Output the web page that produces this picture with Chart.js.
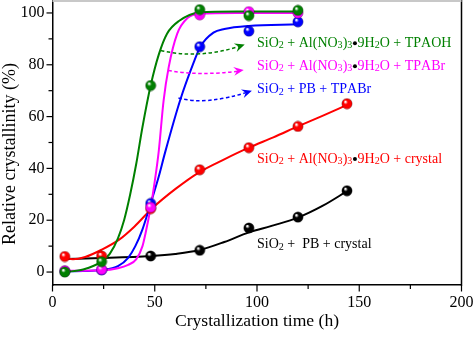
<!DOCTYPE html>
<html>
<head>
<meta charset="utf-8">
<title>Relative crystallinity</title>
<script src="https://cdn.jsdelivr.net/npm/chart.js@4.4.1/dist/chart.umd.min.js"></script>
<style>
  html, body { margin: 0; padding: 0; background: #fff; }
  #wrap { width: 474px; height: 337px; }
</style>
</head>
<body>
<div id="wrap"><canvas id="myChart" width="474" height="337"></canvas></div>
<script>
// axis ticks
const xTicks = [0, 50, 100, 150, 200];
const yTicks = [0, 20, 40, 60, 80, 100];

// measured points (time in h, crystallinity in %)
const tpaohX = [6, 24, 48, 72, 96, 120];
const tpaohY = [0, 4, 72, 101.3, 99, 101];
const alTpabrX = [6, 24, 48, 72, 96, 120];
const alTpabrY = [0.5, 1, 25, 99.3, 100.5, 100];
const pbTpabrX = [6, 24, 48, 72, 96, 120];
const pbTpabrY = [0.3, 0.8, 26.5, 87, 93, 96.6];
const alCrystalX = [6, 24, 48, 72, 96, 120, 144];
const alCrystalY = [6, 6.2, 24.5, 39.5, 48, 56.2, 65];
const pbCrystalX = [48, 72, 96, 120, 144];
const pbCrystalY = [6.2, 8.4, 17, 21.2, 31.4];

// fitted curves
const tpaohFitX = [6, 15, 24, 28, 32, 35, 38, 41, 44, 48, 52, 56, 62, 72, 90, 120];
const tpaohFitY = [0, 1, 4, 7, 13, 20, 30, 42, 56, 72, 84, 92, 97, 100.2, 100.6, 100.6];
const alTpabrFitX = [6, 24, 32, 37, 41, 44, 45.5, 48, 50, 52, 54.3, 56.8, 61, 66, 72, 90, 120];
const alTpabrFitY = [0.5, 0.7, 1.5, 2.8, 5, 10, 15, 25, 35, 47, 66, 79, 92, 98, 99.7, 100, 100];
const pbTpabrFitX = [6, 15, 24, 32, 37, 40.5, 44, 48, 52, 55, 62.5, 69, 72.3, 78.7, 84, 96, 120];
const pbTpabrFitY = [0.3, 0.4, 0.8, 2.3, 5.5, 10, 16.5, 26.5, 37, 46, 66.5, 80.8, 87, 92.4, 93.8, 95, 95.6];
const alCrystalFitX = [6, 10, 16, 24, 32.6, 40, 48.9, 60, 71.7, 84, 96, 108, 120, 132, 144];
const alCrystalFitY = [5.4, 4.9, 5.8, 8.6, 12.5, 17.5, 24.7, 32, 38.5, 43.5, 48, 52, 56.2, 60.3, 64.5];
const pbCrystalFitX = [6, 24, 48, 60, 72, 84, 96, 108, 120, 132, 144];
const pbCrystalFitY = [5, 5.4, 6.2, 7, 8.5, 11.6, 15.3, 18, 21, 25.5, 31.2];

// series labels (_x = subscript, • = black dot)
const labels = [
  'SiO_2 + Al(NO_3)_3•9H_2O + TPAOH',
  'SiO_2 + Al(NO_3)_3•9H_2O + TPABr',
  'SiO_2 + PB + TPABr',
  'SiO_2 + Al(NO_3)_3•9H_2O + crystal',
  'SiO_2 +  PB + crystal'
];
const colors = ['#008000', '#ff00ff', '#0000ff', '#ff0000', '#000000'];
// label anchor in data units
const labelX = [100, 100, 100, 100, 100];
const labelY = [88.3, 79.4, 70.4, 43.6, 10.6];
// dashed arrows: start, control, end (data units)
const arrows = [
  { c: 0, p: [[53, 85.5], [72, 82], [94, 87.8]] },
  { c: 1, p: [[56.7, 77.8], [72, 75.6], [93.5, 78]] },
  { c: 2, p: [[61.6, 67.2], [75, 64.2], [97.5, 70]] }
];

function toXY(xs, ys) { return xs.map((x, i) => ({ x: x, y: ys[i] })); }

function sphere(col) {
  const c = document.createElement('canvas');
  c.width = 12; c.height = 12;
  const g = c.getContext('2d');
  const grd = g.createRadialGradient(4.3, 4, 0.5, 6, 6, 6);
  grd.addColorStop(0, '#ffffff');
  grd.addColorStop(0.3, col);
  grd.addColorStop(1, col);
  g.fillStyle = grd;
  g.beginPath(); g.arc(6, 6, 5.2, 0, Math.PI * 2); g.fill();
  g.strokeStyle = 'rgba(0,0,0,0.35)'; g.lineWidth = 0.8; g.stroke();
  return c;
}

const fits = [
  toXY(tpaohFitX, tpaohFitY), toXY(alTpabrFitX, alTpabrFitY), toXY(pbTpabrFitX, pbTpabrFitY),
  toXY(alCrystalFitX, alCrystalFitY), toXY(pbCrystalFitX, pbCrystalFitY)
];
const pts = [
  toXY(tpaohX, tpaohY), toXY(alTpabrX, alTpabrY), toXY(pbTpabrX, pbTpabrY),
  toXY(alCrystalX, alCrystalY), toXY(pbCrystalX, pbCrystalY)
];

const datasets = [];
for (let i = 0; i < 5; i++) {
  datasets.push({
    label: labels[i] + ' fit', data: fits[i], showLine: true, borderColor: colors[i],
    borderWidth: 2, pointRadius: 0, cubicInterpolationMode: 'monotone', order: 10 + i
  });
  datasets.push({
    label: labels[i], data: pts[i], showLine: false, pointStyle: sphere(colors[i]),
    pointRadius: 6, order: i
  });
}

const SERIF = '"Liberation Serif", "Times New Roman", serif';

function drawRich(ctx, str, x, y, size, col) {
  let cx = x;
  for (let i = 0; i < str.length; i++) {
    const ch = str[i];
    if (ch === '_') {
      const d = str[++i];
      ctx.font = (size * 0.72) + 'px ' + SERIF;
      ctx.fillStyle = col;
      ctx.fillText(d, cx, y + 2.5);
      cx += ctx.measureText(d).width;
    } else if (ch === '•') {
      ctx.fillStyle = '#000';
      ctx.beginPath(); ctx.arc(cx + 2.6, y, 2, 0, Math.PI * 2); ctx.fill();
      cx += 5.2;
    } else {
      ctx.font = size + 'px ' + SERIF;
      ctx.fillStyle = col;
      ctx.fillText(ch, cx, y);
      cx += ctx.measureText(ch).width;
    }
  }
}

const decor = {
  id: 'decor',
  afterDatasetsDraw(chart) {
    const ctx = chart.ctx, xs = chart.scales.x, ys = chart.scales.y, a = chart.chartArea;
    ctx.save();
    // dashed arrows
    arrows.forEach(ar => {
      const p = ar.p.map(q => [xs.getPixelForValue(q[0]), ys.getPixelForValue(q[1])]);
      ctx.strokeStyle = colors[ar.c]; ctx.fillStyle = colors[ar.c];
      ctx.lineWidth = 1.5; ctx.setLineDash([3.5, 2.5]);
      ctx.beginPath(); ctx.moveTo(p[0][0], p[0][1]);
      ctx.quadraticCurveTo(p[1][0], p[1][1], p[2][0] - 3, p[2][1] + 1);
      ctx.stroke(); ctx.setLineDash([]);
      const ang = Math.atan2(p[2][1] - p[1][1], p[2][0] - p[1][0]);
      ctx.translate(p[2][0], p[2][1]); ctx.rotate(ang);
      ctx.beginPath(); ctx.moveTo(0, 0); ctx.lineTo(-10, -4.5); ctx.lineTo(-6.5, 0); ctx.lineTo(-10, 4.5);
      ctx.closePath(); ctx.fill();
      ctx.setTransform(1, 0, 0, 1, 0, 0);
    });
    // series labels
    ctx.textBaseline = 'middle'; ctx.textAlign = 'left';
    labels.forEach((s, i) => {
      drawRich(ctx, s, xs.getPixelForValue(labelX[i]), ys.getPixelForValue(labelY[i]), 14, colors[i]);
    });
    // frame
    ctx.strokeStyle = '#000'; ctx.lineWidth = 1.5;
    ctx.beginPath(); ctx.moveTo(a.right, a.top); ctx.lineTo(a.right, a.bottom + 0.75); ctx.stroke();
    ctx.strokeStyle = '#c8c8c8'; ctx.lineWidth = 2;
    ctx.beginPath(); ctx.moveTo(a.left, a.top + 1); ctx.lineTo(a.right, a.top + 1); ctx.stroke();
    // tick marks
    ctx.strokeStyle = '#000'; ctx.lineWidth = 1.2;
    for (let v = 0; v <= 100; v += 10) {
      const y = ys.getPixelForValue(v), len = v % 20 === 0 ? 6 : 4;
      ctx.beginPath(); ctx.moveTo(a.left, y); ctx.lineTo(a.left - len, y); ctx.stroke();
    }
    for (let v = 0; v <= 200; v += 25) {
      const x = xs.getPixelForValue(v), len = v % 50 === 0 ? 6.5 : 4;
      ctx.beginPath(); ctx.moveTo(x, a.bottom); ctx.lineTo(x, a.bottom + len); ctx.stroke();
    }
    // axis titles
    ctx.fillStyle = '#000'; ctx.textAlign = 'center'; ctx.textBaseline = 'middle';
    ctx.font = '17.6px ' + SERIF;
    ctx.fillText('Crystallization time (h)', (a.left + a.right) / 2, 321);
    ctx.translate(10, 154); ctx.rotate(-Math.PI / 2);
    ctx.font = '18px ' + SERIF;
    ctx.fillText('Relative crystallinity (%)', 0, 0);
    ctx.restore();
  }
};

new Chart(document.getElementById('myChart'), {
  type: 'scatter',
  data: { datasets: datasets },
  options: {
    responsive: false,
    animation: false,
    layout: { autoPadding: false, padding: { top: 0, right: 12.5, left: 0, bottom: 0 } },
    plugins: { legend: { display: false }, tooltip: { enabled: false } },
    scales: {
      x: {
        type: 'linear', min: 0, max: 200,
        afterBuildTicks: s => { s.ticks = xTicks.map(v => ({ value: v })); },
        afterFit: s => { s.height = 52; s.paddingLeft = 0; s.paddingRight = 0; },
        grid: { drawOnChartArea: false, drawTicks: false },
        border: { color: '#000', width: 1.5 },
        ticks: { color: '#000', padding: 8, maxRotation: 0, font: { family: SERIF, size: 16 } }
      },
      y: {
        type: 'linear', min: -5, max: 105,
        afterBuildTicks: s => { s.ticks = yTicks.map(v => ({ value: v })); },
        afterFit: s => { s.width = 52.5; s.paddingTop = 0; s.paddingBottom = 0; },
        grid: { drawOnChartArea: false, drawTicks: false },
        border: { color: '#000', width: 1.5 },
        ticks: { color: '#000', padding: 8, font: { family: SERIF, size: 16 } }
      }
    }
  },
  plugins: [decor]
});
</script>
</body>
</html>
